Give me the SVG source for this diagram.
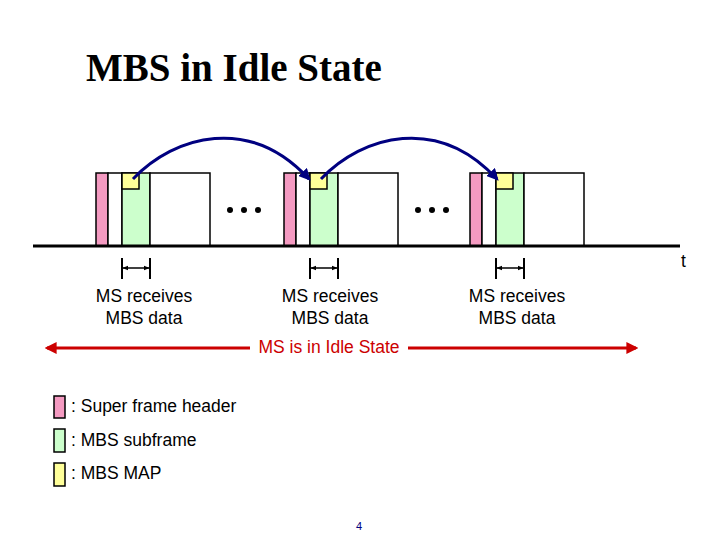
<svg xmlns="http://www.w3.org/2000/svg" width="720" height="540" viewBox="0 0 720 540">
<style>
.b{stroke:#000;stroke-width:1.5}
.p{fill:#f49ac1}.g{fill:#ccffcc}.y{fill:#ffff99}.w{fill:#fff}
.t{font-family:"Liberation Sans",Arial,sans-serif;font-size:17.5px;fill:#000}
.c{stroke:#000080;stroke-width:3;fill:none}
</style>
<defs>
<marker id="ab" viewBox="0 0 10 10" refX="8" refY="5" markerWidth="4" markerHeight="4" orient="auto"><path d="M0,0L10,5L0,10z" fill="#000080"/></marker>
<marker id="ar" viewBox="0 0 10 10" refX="8" refY="5" markerWidth="4" markerHeight="4" orient="auto-start-reverse"><path d="M0,0L10,5L0,10z" fill="#cc0000"/></marker>
<marker id="ak" viewBox="0 0 10 10" refX="9" refY="5" markerWidth="4" markerHeight="4" orient="auto-start-reverse"><path d="M0,1L10,5L0,9z" fill="#000"/></marker>
<g id="fr"><rect class="b p" x="96" y="173" width="12" height="73"/><rect class="b w" x="108" y="173" width="14" height="73"/><rect class="b g" x="122" y="173" width="28" height="73"/><rect class="b y" x="122" y="173" width="17" height="16"/><rect class="b w" x="150" y="173" width="60" height="73"/></g>
</defs>
<text x="86" y="81" font-family="Liberation Serif,serif" font-size="39" font-weight="bold">MBS in Idle State</text>
<g id="frame1"><use href="#fr"/></g>
<g id="frame2"><use href="#fr" x="188"/></g>
<g id="frame3"><use href="#fr" x="374"/></g>
<g id="dots" fill="#000"><circle cx="230" cy="210" r="3"/><circle cx="244" cy="210" r="3"/><circle cx="258" cy="210" r="3"/><circle cx="418" cy="210" r="3"/><circle cx="432" cy="210" r="3"/><circle cx="446" cy="210" r="3"/></g>
<g id="connectors">
<line x1="33" y1="246" x2="680" y2="246" stroke="#000" stroke-width="3"/>
<path class="c" d="M133,179 C175,135 250,115 309,179" marker-end="url(#ab)"/>
<path class="c" d="M321,179 C363,135 438,115 497,179" marker-end="url(#ab)"/>
<line x1="47" y1="348" x2="250" y2="348" stroke="#cc0000" stroke-width="3" marker-start="url(#ar)"/>
<line x1="408" y1="348" x2="636" y2="348" stroke="#cc0000" stroke-width="3" marker-end="url(#ar)"/>
<g id="br" stroke="#000" stroke-width="2"><line x1="122" y1="258" x2="122" y2="279"/><line x1="150" y1="258" x2="150" y2="279"/><line x1="123" y1="268" x2="149" y2="268" marker-start="url(#ak)" marker-end="url(#ak)" stroke-width="1.5"/></g>
<use href="#br" x="188"/><use href="#br" x="374"/>
</g>
<text class="t" x="681" y="267" font-size="14">t</text>
<g class="t" text-anchor="middle"><text x="144" y="302">MS receives</text><text x="144" y="324">MBS data</text><text x="330" y="302">MS receives</text><text x="330" y="324">MBS data</text><text x="517" y="302">MS receives</text><text x="517" y="324">MBS data</text></g>
<text class="t" x="329" y="353" text-anchor="middle" style="fill:#cc0000">MS is in Idle State</text>
<g id="legend">
<rect class="b p" x="54" y="396" width="11" height="22"/><text class="t" x="71" y="412">: Super frame header</text>
<rect class="b g" x="54" y="429" width="11" height="23"/><text class="t" x="71" y="446">: MBS subframe</text>
<rect class="b y" x="54" y="463" width="11" height="23"/><text class="t" x="71" y="479">: MBS MAP</text>
</g>
<text x="359" y="530" font-family="Liberation Sans,sans-serif" font-size="11" fill="#000080" text-anchor="middle">4</text>
</svg>
